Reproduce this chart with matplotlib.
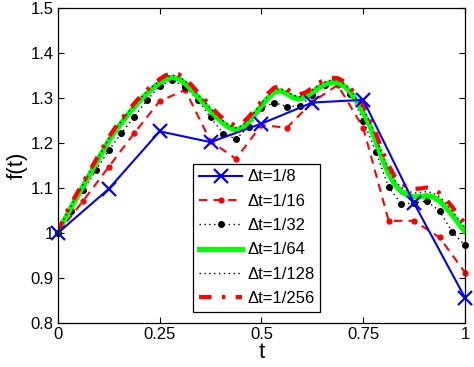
import numpy as np
import matplotlib
matplotlib.use("Agg")
import matplotlib.pyplot as plt
from matplotlib.legend_handler import HandlerLine2D

plt.rcParams['font.family'] = ['Liberation Sans', 'DejaVu Sans']

# ---- data ----
f_dt8 = [1.000, 1.098, 1.226, 1.202, 1.243, 1.290, 1.296, 1.066, 0.856]
f_dt16 = [1.000, 1.072, 1.147, 1.222, 1.293, 1.318, 1.204, 1.165, 1.240,
          1.234, 1.291, 1.329, 1.234, 1.027, 1.027, 0.990, 0.912]
f_dt32 = [1.000, 1.050, 1.096, 1.140, 1.184, 1.222, 1.258, 1.295, 1.327,
          1.340, 1.325, 1.296, 1.257, 1.221, 1.209, 1.236, 1.277, 1.290,
          1.281, 1.282, 1.306, 1.328, 1.335, 1.310, 1.250, 1.180, 1.102,
          1.064, 1.067, 1.071, 1.049, 1.002, 0.973]
f_dt64 = [1.000, 1.028, 1.055, 1.080, 1.105, 1.130, 1.155, 1.180, 1.205,
          1.226, 1.245, 1.263, 1.280, 1.296, 1.310, 1.323, 1.334, 1.342,
          1.346, 1.343, 1.333, 1.319, 1.303, 1.288, 1.272, 1.257, 1.244,
          1.234, 1.229, 1.234, 1.248, 1.265, 1.283, 1.300, 1.313, 1.316,
          1.310, 1.301, 1.298, 1.303, 1.313, 1.324, 1.331, 1.335, 1.334,
          1.327, 1.313, 1.292, 1.268, 1.240, 1.203, 1.165, 1.132, 1.107,
          1.092, 1.084, 1.080, 1.081, 1.083, 1.080, 1.071, 1.057, 1.040,
          1.021, 1.003]
f_dt128 = [1.000, 1.032, 1.059, 1.084, 1.109, 1.134, 1.159, 1.184, 1.209,
           1.230, 1.249, 1.267, 1.284, 1.300, 1.314, 1.327, 1.338, 1.347,
           1.351, 1.348, 1.338, 1.324, 1.308, 1.293, 1.277, 1.262, 1.249,
           1.239, 1.234, 1.239, 1.253, 1.270, 1.288, 1.305, 1.318, 1.321,
           1.315, 1.306, 1.303, 1.308, 1.318, 1.329, 1.336, 1.340, 1.339,
           1.332, 1.318, 1.297, 1.277, 1.249, 1.212, 1.174, 1.141, 1.116,
           1.101, 1.093, 1.089, 1.090, 1.092, 1.089, 1.080, 1.066, 1.049,
           1.030, 1.012]
f_dt256 = [1.000, 1.036, 1.063, 1.088, 1.113, 1.138, 1.163, 1.188, 1.213,
           1.234, 1.253, 1.271, 1.288, 1.304, 1.318, 1.331, 1.342, 1.351,
           1.355, 1.353, 1.343, 1.329, 1.313, 1.298, 1.282, 1.267, 1.254,
           1.244, 1.239, 1.244, 1.258, 1.275, 1.293, 1.310, 1.323, 1.326,
           1.320, 1.311, 1.308, 1.313, 1.323, 1.334, 1.341, 1.345, 1.344,
           1.337, 1.323, 1.302, 1.286, 1.258, 1.221, 1.183, 1.150, 1.125,
           1.110, 1.102, 1.098, 1.099, 1.101, 1.098, 1.089, 1.075, 1.058,
           1.039, 1.021]
labels = ['Δt=1/8', 'Δt=1/16', 'Δt=1/32', 'Δt=1/64', 'Δt=1/128', 'Δt=1/256']
xticks = [0, 0.25, 0.5, 0.75, 1]
xticklabels = ['0', '0.25', '0.5', '0.75', '1']
yticks = [0.8, 0.9, 1.0, 1.1, 1.2, 1.3, 1.4, 1.5]
yticklabels = ['0.8', '0.9', '1', '1.1', '1.2', '1.3', '1.4', '1.5']


def tgrid(v):
    return np.linspace(0, 1, len(v))


fig = plt.figure(figsize=(4.74, 3.67), dpi=100)
ax = fig.add_axes([0.122, 0.12, 0.859, 0.858])

h = []
h += ax.plot(tgrid(f_dt8), f_dt8, '-', color='#0000ff', lw=1.5, marker='x',
             ms=10, mew=1.6, label=labels[0], clip_on=False, zorder=2.5)
h += ax.plot(tgrid(f_dt16), f_dt16, color='#ff0000', lw=1.5, ls=(0, (4, 3)),
             marker='o', ms=3.5, label=labels[1], clip_on=False)
h += ax.plot(tgrid(f_dt32), f_dt32, color='black', lw=1.0, ls=(0, (1, 2.5)),
             marker='o', ms=4, label=labels[2], clip_on=False)
h += ax.plot(tgrid(f_dt64), f_dt64, '-', color='#00ff00', lw=3.8,
             label=labels[3])
h += ax.plot(tgrid(f_dt128), f_dt128, color='black', lw=1.0,
             ls=(0, (1, 2.5)), label=labels[4])
h += ax.plot(tgrid(f_dt256), f_dt256, color='#ff0000', lw=3.0,
             ls=(0, (3, 2.5, 0.8, 2.5)), label=labels[5])

ax.set_xlim(0, 1)
ax.set_ylim(0.8, 1.5)
ax.set_xticks(xticks)
ax.set_xticklabels(xticklabels)
ax.set_yticks(yticks)
ax.set_yticklabels(yticklabels)
ax.tick_params(direction='in', length=4, width=0.8, labelsize=12,
               top=True, right=True, pad=3)
for s in ax.spines.values():
    s.set_linewidth(0.9)
ax.set_xlabel('t', fontsize=16, labelpad=0)
ax.set_ylabel('f(t)', fontsize=16, labelpad=2)

leg = ax.legend(h, labels, loc='lower left', bbox_to_anchor=(0.332, 0.035),
                fontsize=12, frameon=True, fancybox=False, edgecolor='black',
                framealpha=1, handlelength=2.6, handletextpad=0.3,
                labelspacing=0.56, borderpad=0.35, borderaxespad=0,
                handler_map={h[1]: HandlerLine2D(numpoints=1),
                             h[2]: HandlerLine2D(numpoints=1)})
leg.get_frame().set_linewidth(0.9)
leg.set_zorder(5)

fig.savefig('out.png', dpi=100)
